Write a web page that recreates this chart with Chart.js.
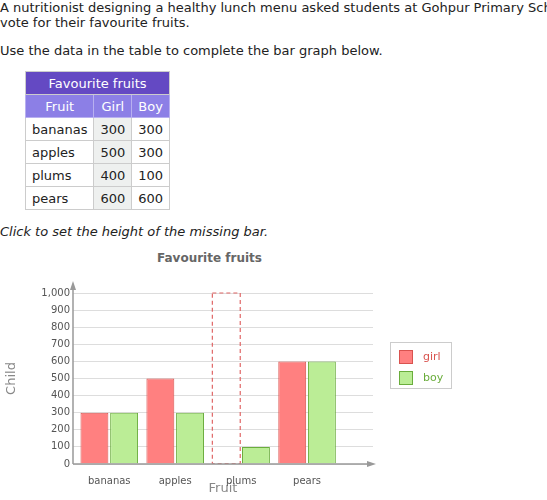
<!DOCTYPE html>
<html><head><meta charset="utf-8">
<script src="https://cdn.jsdelivr.net/npm/chart.js@4"></script>
<style>
body{margin:0;font-family:"DejaVu Sans",Verdana,sans-serif;font-size:13px;color:#222;width:547px;height:500px;position:relative;overflow:hidden}
.t{position:absolute;left:0;white-space:nowrap}
table{position:absolute;left:25px;top:71px;border-collapse:collapse;font-size:13px}
td,th{border:1px solid #ccc;height:22px;padding:0 6px;font-weight:normal}
th{color:#fff;text-align:center}
.h1{background:#6449c3}.h2 th{background:#8c7fe6;border-color:#b8b0f0}
td.g{background:#eef0ef}
#wrap{position:absolute;left:0;top:240px;width:547px;height:260px}
#leg{position:absolute;left:390px;top:342px;width:60px;height:45px;border:1px solid #ccc;font-size:11px}
.li{position:absolute;left:8px;height:14px}
.sw{position:absolute;left:0;top:0;width:12px;height:12px}
</style></head><body>
<div class="t" style="top:0">A nutritionist designing a healthy lunch menu asked students at Gohpur Primary School to</div>
<div class="t" style="top:15px">vote for their favourite fruits.</div>
<div class="t" style="top:43px">Use the data in the table to complete the bar graph below.</div>
<table id="tbl"></table>
<div class="t" style="top:224px;font-style:italic">Click to set the height of the missing bar.</div>
<div class="t" style="top:251px;left:157px;font-weight:bold;color:#666;font-size:12px">Favourite fruits</div>
<div id="wrap"><canvas id="c"></canvas></div>
<div id="leg">
<div class="li" style="top:7px"><div class="sw" style="background:#ff8080;border:1px solid #d9534f"></div><span style="position:absolute;left:24px;color:#d9534f">girl</span></div>
<div class="li" style="top:28px"><div class="sw" style="background:#bbed96;border:1px solid #6aad3c"></div><span style="position:absolute;left:24px;color:#6aad3c">boy</span></div>
</div>
<script>
const categories=["bananas","apples","plums","pears"];
const girl=[300,500,null,600];
const boy=[300,300,100,600];
const tableGirl=[300,500,400,600];
const missing=[null,null,1000,null];
const yTicks=[0,100,200,300,400,500,600,700,800,900,1000];

let h='<tr class="h1"><th colspan="3">Favourite fruits</th></tr><tr class="h2"><th>Fruit</th><th>Girl</th><th>Boy</th></tr>';
categories.forEach((c,i)=>{h+=`<tr><td>${c}</td><td class="g">${tableGirl[i]}</td><td>${boy[i]}</td></tr>`});
document.getElementById('tbl').innerHTML=h;

const pts=a=>a.map((v,i)=>({x:i,y:v}));
const deco={id:'deco',afterDatasetsDraw(ch){
  const c=ch.ctx,a=ch.chartArea;
  const m=ch.getDatasetMeta(2);
  m.data.forEach((el,i)=>{ if(missing[i]==null)return;
    const p=el.getProps(['x','y','base','width'],true);
    c.save();c.strokeStyle='#e06666';c.lineWidth=1.2;c.setLineDash([4,3]);
    c.strokeRect(p.x-p.width/2,p.y,p.width,p.base-p.y);c.restore();});
  c.save();c.strokeStyle='#999';c.fillStyle='#999';c.lineWidth=1.5;
  c.beginPath();c.moveTo(a.left,a.bottom);c.lineTo(a.left,a.top-8);c.moveTo(a.left,a.bottom);c.lineTo(a.right-2,a.bottom);c.stroke();
  c.beginPath();c.moveTo(a.left,a.top-12);c.lineTo(a.left-3,a.top-3);c.lineTo(a.left+3,a.top-3);c.fill();
  c.beginPath();c.moveTo(a.right+3,a.bottom);c.lineTo(a.right-6,a.bottom-3);c.lineTo(a.right-6,a.bottom+3);c.fill();
  c.restore();
}};
new Chart(document.getElementById('c'),{type:'bar',
 data:{datasets:[
  {label:'girl',data:pts(girl),stack:'g',backgroundColor:'#ff8080',borderColor:'#d9534f',borderWidth:1},
  {label:'boy',data:pts(boy),stack:'b',backgroundColor:'#bbed96',borderColor:'#6aad3c',borderWidth:1},
  {label:'missing',data:pts(missing),stack:'g',backgroundColor:'rgba(0,0,0,0)',borderWidth:0}]},
 options:{responsive:true,maintainAspectRatio:false,animation:false,
  categoryPercentage:0.9,barPercentage:0.94,
  layout:{padding:{top:53,right:174,bottom:0,left:0}},
  plugins:{legend:{display:false},tooltip:{enabled:false}},
  scales:{
   x:{type:'linear',min:-0.55,max:4,stacked:true,offset:false,
     afterBuildTicks:s=>{s.ticks=categories.map((c,i)=>({value:i}))},
     ticks:{callback:v=>categories[v],color:'#555',font:{size:10,family:'DejaVu Sans'},autoSkip:false,maxRotation:0},
     grid:{display:false},border:{display:false},
     title:{display:true,text:'Fruit',color:'#888',font:{size:13,family:'DejaVu Sans'},padding:{top:6}},
     afterFit:s=>{s.height=36}},
   y:{min:0,max:1000,stacked:false,
     afterBuildTicks:s=>{s.ticks=yTicks.map(v=>({value:v}))},
     ticks:{color:'#555',font:{size:10,family:'DejaVu Sans'},callback:v=>v.toLocaleString('en-US')},
     grid:{color:'#ddd',drawTicks:false},border:{display:false},
     title:{display:true,text:'Child',color:'#888',font:{size:13,family:'DejaVu Sans'}},
     afterFit:s=>{s.width=73}}
  }},plugins:[deco]});
</script></body></html>
